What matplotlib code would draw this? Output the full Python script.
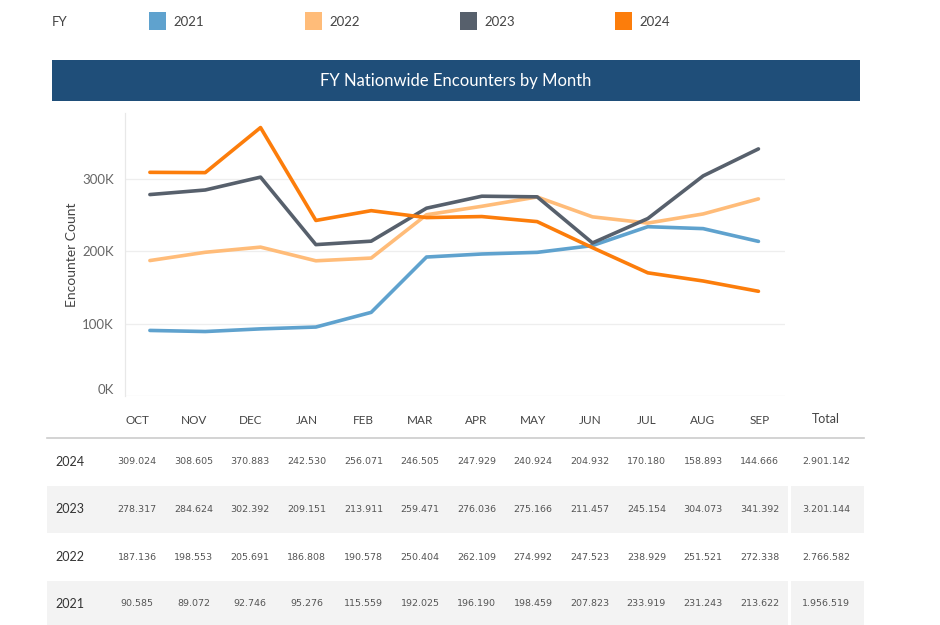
import matplotlib
matplotlib.use("Agg")
import matplotlib.pyplot as plt
from matplotlib.patches import Rectangle

months = ["OCT", "NOV", "DEC", "JAN", "FEB", "MAR", "APR", "MAY", "JUN", "JUL", "AUG", "SEP"]
years = ["2021", "2022", "2023", "2024"]
fy2021 = [90585, 89072, 92746, 95276, 115559, 192025, 196190, 198459, 207823, 233919, 231243, 213622]
fy2022 = [187136, 198553, 205691, 186808, 190578, 250404, 262109, 274992, 247523, 238929, 251521, 272338]
fy2023 = [278317, 284624, 302392, 209151, 213911, 259471, 276036, 275166, 211457, 245154, 304073, 341392]
fy2024 = [309024, 308605, 370883, 242530, 256071, 246505, 247929, 240924, 204932, 170180, 158893, 144666]
totals = {"2021": 1956519, "2022": 2766582, "2023": 3201144, "2024": 2901142}
series = {"2021": fy2021, "2022": fy2022, "2023": fy2023, "2024": fy2024}
colors = {"2021": "#5fa2ce", "2022": "#ffbc79", "2023": "#57606c", "2024": "#fc7d0b"}
yticks = [0, 100000, 200000, 300000]
ytick_labels = ["0K", "100K", "200K", "300K"]
title = "FY Nationwide Encounters by Month"

W, H = 940, 625
FONT = "Lato"
fig = plt.figure(figsize=(W / 100, H / 100), dpi=100)
fig.patch.set_facecolor("white")

def fx(px):
    return px / W

def fy(py):
    return 1 - py / H

# Legend
fig.text(fx(52), fy(22), "FY", fontsize=9.5, color="#444444", va="center", ha="left", family=FONT)
leg_x = {"2021": 149, "2022": 305, "2023": 460, "2024": 615}
for y in years:
    x0 = leg_x[y]
    fig.patches.append(Rectangle((fx(x0), fy(30)), fx(17), 18 / H, transform=fig.transFigure,
                                 facecolor=colors[y], edgecolor="none"))
    fig.text(fx(x0 + 24), fy(22), y, fontsize=9.5, color="#444444", va="center", ha="left", family=FONT)

# Title banner
fig.patches.append(Rectangle((fx(52), fy(101)), fx(808), 41 / H, transform=fig.transFigure,
                             facecolor="#1f4e79", edgecolor="none"))
fig.text(fx(456), fy(81), title, fontsize=12, color="white", ha="center", va="center", family=FONT)

# Chart axes
ax = fig.add_axes([fx(125), fy(396), fx(660), 283 / H])
xs = list(range(len(months)))
for y in years:
    ax.plot(xs, series[y], color=colors[y], lw=2.6, solid_capstyle="round", solid_joinstyle="round", zorder=3)
ax.set_xlim(-0.45, 11.48)
ax.set_ylim(0, 391000)
ax.set_yticks(yticks)
ax.set_yticklabels(ytick_labels, fontsize=9.5, color="#666666", family=FONT)
ax.set_xticks([])
ax.tick_params(axis="y", length=0, pad=8)
ax.grid(axis="y", color="#eeeeee", lw=0.9)
for s in ["top", "right", "bottom"]:
    ax.spines[s].set_visible(False)
ax.spines["left"].set_color("#e8e8e8")
ax.spines["left"].set_linewidth(0.9)
ax.set_ylabel("Encounter Count", fontsize=10, color="#444444", family=FONT, labelpad=3)
ax.get_yticklabels()[0].set_verticalalignment("bottom")

# Table axes
tax = fig.add_axes([fx(0), fy(625), 1, 225 / H])
c0, dc = 137, 56.6
tax.set_xlim((0 - c0) / dc, (W - c0) / dc)
tax.set_ylim(625, 400)
tax.axis("off")
left_c = (47 - c0) / dc
band_end_c = (788 - c0) / dc
tot_start_c = (791 - c0) / dc
tot_end_c = (864 - c0) / dc
total_c = (826 - c0) / dc

tax.plot([left_c, tot_end_c], [438, 438], color="#cccccc", lw=1.2)
for i, m in enumerate(months):
    tax.text(i, 421, m, ha="center", va="center", fontsize=8.5, color="#444444", family=FONT)
tax.text(total_c, 419, "Total", ha="center", va="center", fontsize=9, color="#444444", family=FONT)

row_order = ["2024", "2023", "2022", "2021"]
row_y = [462, 509, 557, 604]
for k, (yr, ry) in enumerate(zip(row_order, row_y)):
    if k % 2 == 1:
        tax.add_patch(Rectangle((left_c, ry - 23.5), band_end_c - left_c, 47, facecolor="#f3f3f3", edgecolor="none"))
        tax.add_patch(Rectangle((tot_start_c, ry - 23.5), tot_end_c - tot_start_c, 47, facecolor="#f3f3f3", edgecolor="none"))
    tax.text((55 - c0) / dc, ry, yr, ha="left", va="center", fontsize=9, color="#333333", family=FONT)
    for i, v in enumerate(series[yr]):
        tax.text(i, ry, f"{v:,}".replace(",", "."), ha="center", va="center", fontsize=6.8, color="#555555")
    tax.text(total_c, ry, f"{totals[yr]:,}".replace(",", "."), ha="center", va="center", fontsize=6.8, color="#555555")

fig.savefig("out.png", dpi=100, facecolor="white")
